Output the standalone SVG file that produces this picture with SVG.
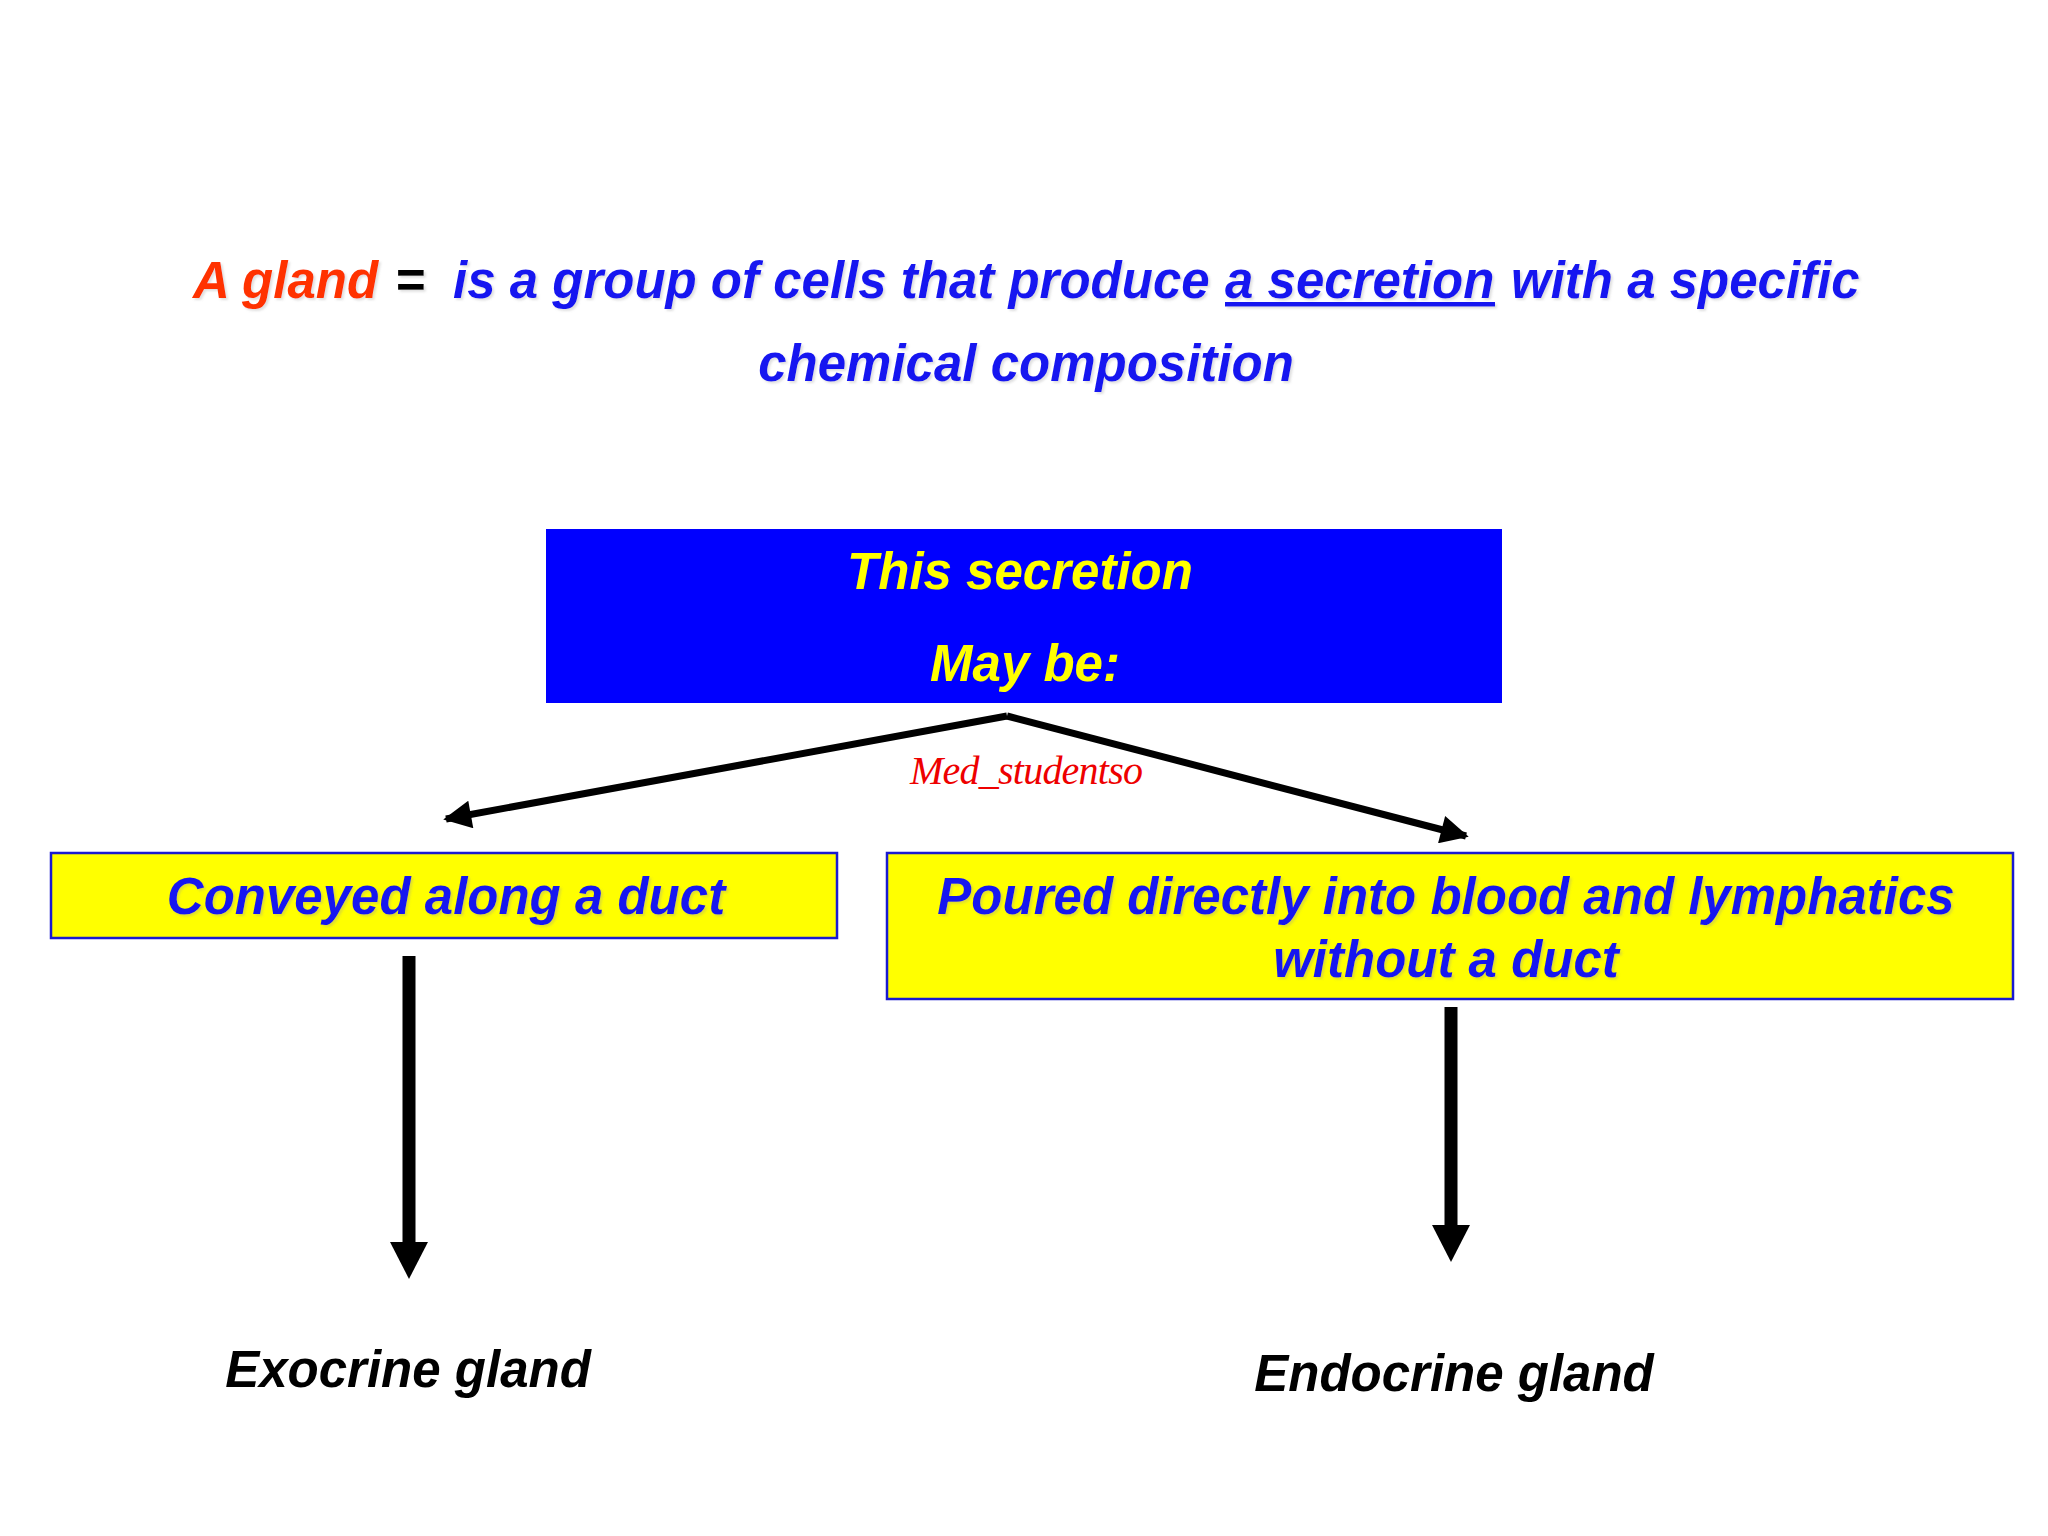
<svg xmlns="http://www.w3.org/2000/svg" width="2048" height="1536" viewBox="0 0 2048 1536">
<defs>
<style>
.t{font-family:"Liberation Sans",Arial,sans-serif;font-weight:bold;font-style:italic;font-size:51px}
.blue{fill:#1414F0}
.yel{fill:#FFFF00}
.blk{fill:#000}
.red{fill:#FF3300}
.ybox{fill:#FFFF00;stroke:#1a1ad0;stroke-width:2.5}
.diag{stroke:#000;stroke-width:7;fill:none}
.down{stroke:#000;stroke-width:13;fill:none}
</style>
<filter id="sh" x="-5%" y="-20%" width="110%" height="140%">
<feDropShadow dx="2" dy="2" stdDeviation="1" flood-color="#999" flood-opacity="0.3"/>
</filter>
<marker id="ah" viewBox="0 0 10 10" refX="9" refY="5" markerWidth="4.5" markerHeight="4" orient="auto" markerUnits="strokeWidth">
<path d="M0,0 L10,5 L0,10 z" fill="#000"/>
</marker>
<marker id="dh" viewBox="0 0 37 38" refX="0" refY="19" markerWidth="2.85" markerHeight="2.92" orient="auto" markerUnits="strokeWidth">
<path d="M0,0 L37,19 L0,38 z" fill="#000"/>
</marker>
</defs>
<rect width="2048" height="1536" fill="#fff"/>
<g id="title" filter="url(#sh)">
<text class="t red" x="193" y="298">A gland</text>
<text class="t blk" x="396" y="298" style="font-style:normal">=</text>
<text class="t blue" x="453" y="298">is a group of cells that produce</text>
<text class="t blue" x="1225" y="298">a secretion</text>
<text class="t blue" x="1511" y="298">with a specific</text>
<text class="t blue" x="1026" y="381" text-anchor="middle">chemical composition</text>
<rect x="1225" y="302" width="270" height="4.5" fill="#1414F0"/>
</g>
<g id="node-secretion">
<rect x="546" y="529" width="956" height="174" fill="#0000FF"/>
<text class="t yel" x="1020" y="589" text-anchor="middle">This secretion</text>
<text class="t yel" x="1025" y="681" text-anchor="middle">May be:</text>
</g>
<g id="node-duct">
<rect class="ybox" x="51" y="853" width="786" height="85"/>
<text class="t blue" x="446" y="914" text-anchor="middle" filter="url(#sh)">Conveyed along a duct</text>
</g>
<g id="node-blood">
<rect class="ybox" x="887" y="853" width="1126" height="146"/>
<text class="t blue" x="1446" y="914" text-anchor="middle" filter="url(#sh)">Poured directly into blood and lymphatics</text>
<text class="t blue" x="1446" y="977" text-anchor="middle" filter="url(#sh)">without a duct</text>
</g>
<g id="node-exocrine">
<text class="t blk" x="408" y="1387" text-anchor="middle">Exocrine gland</text>
</g>
<g id="node-endocrine">
<text class="t blk" x="1454" y="1391" text-anchor="middle">Endocrine gland</text>
</g>
<g id="connectors">
<path class="diag" d="M1007,716 L446,819" marker-end="url(#ah)"/>
<path class="diag" d="M1007,716 L1466,836" marker-end="url(#ah)"/>
<path class="down" d="M409,956 L409,1242" marker-end="url(#dh)"/>
<path class="down" d="M1451,1007 L1451,1225" marker-end="url(#dh)"/>
</g>
<text x="910" y="784" font-family="'Liberation Serif',serif" font-style="italic" font-size="40" fill="#EE0000" textLength="233">Med_studentso</text>
</svg>
